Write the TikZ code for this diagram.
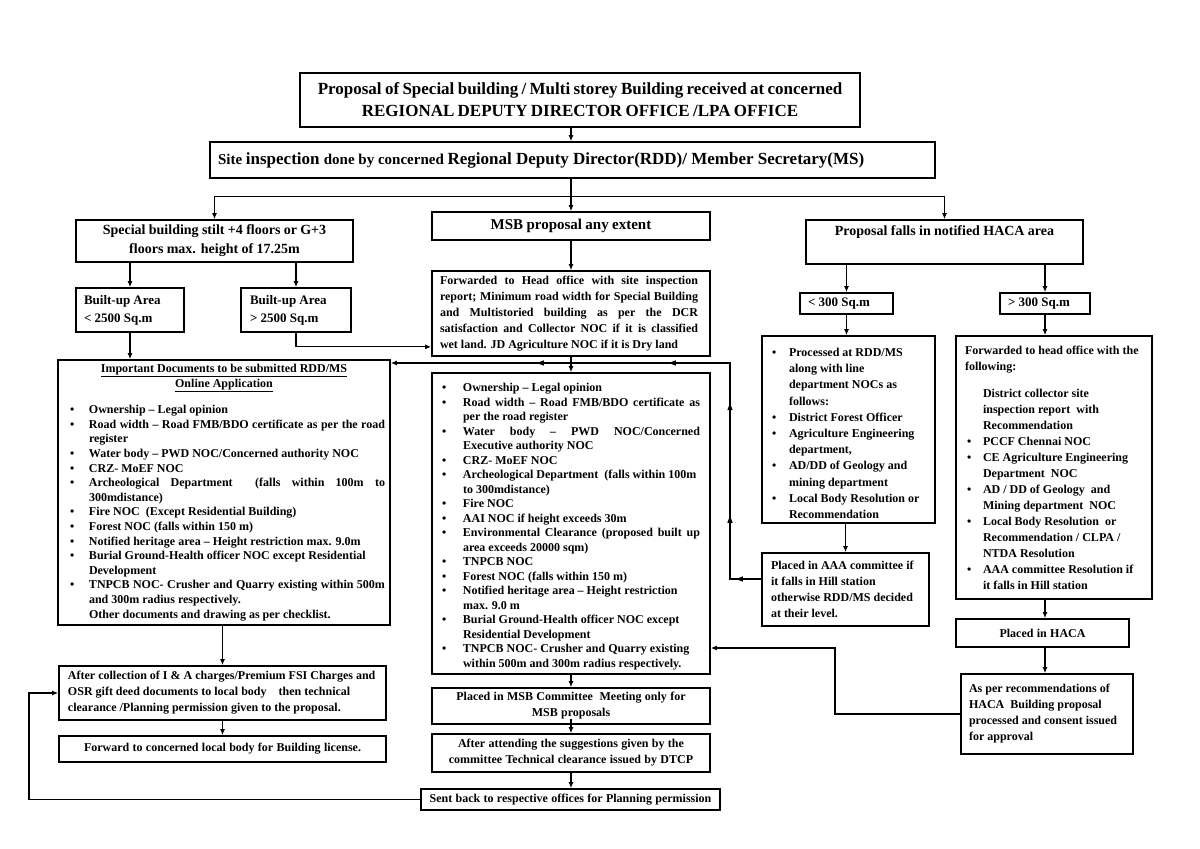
\documentclass[tikz,border=0pt]{standalone}
\usepackage{fontspec}
\setmainfont{Liberation Serif}
\usetikzlibrary{arrows.meta,decorations.markings,calc}
\newcommand\LR[2]{\leftskip=#1pt\rightskip=#2pt\relax}
\newcommand\LRr[2]{\leftskip=#1pt\rightskip=#2pt plus 1fil\relax}
\newcommand\bul[2][19]{\par\noindent\hangindent=#1pt\hbox to #1pt{\textbullet\hfil}\ignorespaces#2\par}
\newcommand\fs[2]{\fontsize{#1}{#2}\selectfont}
\newcommand\tri{\fill (3.5pt,0pt) -- (-3.5pt,2.7pt) -- (-3.5pt,-2.7pt) -- cycle;}
\tikzset{
  box/.style={draw, line width=1.7pt, inner sep=0pt, font=\bfseries, align=justify},
  arr/.style={line width=1.1pt, -{Latex[length=6pt,width=5pt]}},
  ln/.style={line width=1.1pt},
  fbmarks/.style={postaction={decorate}, decoration={markings,
     mark=at position 0.037 with {\tri},
     mark=at position 0.155 with {\tri},
     mark=at position 0.347 with {\tri},
     mark=at position 0.52 with {\tri},
     mark=at position 0.745 with {\tri}}},
}
\begin{document}
\begin{tikzpicture}[x=1pt,y=-1pt]
\fill[white] (0,0) rectangle (1200,849);
\useasboundingbox (0,0) rectangle (1200,849);

% ---------- top ----------
\node[box, text width=560pt, minimum height=54pt, align=center] (top) at (580,100)
 {\fs{17}{22}Proposal of Special building / Multi storey Building received at concerned\\REGIONAL DEPUTY DIRECTOR OFFICE /LPA OFFICE\par};
\node[box, text width=725pt, minimum height=36pt] (site) at (572.5,160)
 {\LRr{8}{0}{\fs{15}{20}Site }{\fs{17}{20}inspection }{\fs{15}{20}done by concerned }{\fs{17}{20}Regional Deputy Director(RDD)/ Member Secretary(MS)}\par};

% ---------- second row ----------
\node[box, text width=277pt, minimum height=42pt, align=center] (special) at (214.5,241)
 {\fs{14}{19}Special building stilt +4 floors or G+3\\floors max. height of 17.25m\par};
\node[box, text width=278pt, minimum height=28pt, align=center] (msb) at (571,226)
 {\fs{15}{18}MSB proposal any extent\par};
\node[box, text width=277pt, minimum height=44pt, align=center] (haca) at (944.5,242)
 {\fs{14}{18}Proposal falls in notified HACA area\\\strut\par};

% ---------- left column ----------
\node[box, text width=108pt, minimum height=44pt] (bu1) at (130,310)
 {\fs{13}{18}\LRr{8}{0}Built-up Area\newline < 2500 Sq.m\par};
\node[box, text width=110pt, minimum height=44pt] (bu2) at (296,310)
 {\fs{13}{18}\LRr{9}{0}Built-up Area\newline > 2500 Sq.m\par};

\node[box, text width=332pt, minimum height=265pt] (docsL) at (224,492.5)
 {\fs{12}{14.6}%
 {\centering\underline{Important Documents to be submitted RDD/MS}\break\underline{Online Application}\par}%
 \vskip 12pt
 \LR{12}{5}%
 \bul{Ownership – Legal opinion}
 \bul{Road width – Road FMB/BDO certificate as per the road\linebreak register}
 \bul{Water body – PWD NOC/Concerned authority NOC}
 \bul{CRZ- MoEF NOC}
 \bul{Archeological Department\ \ (falls within 100m to\linebreak 300mdistance)}
 \bul{Fire NOC\ \ (Except Residential Building)}
 \bul{Forest NOC (falls within 150 m)}
 \bul{Notified heritage area – Height restriction max. 9.0m}
 \bul{Burial Ground-Health officer NOC except Residential\newline Development}
 \bul{TNPCB NOC- Crusher and Quarry existing within 500m\linebreak and 300m radius respectively.\newline Other documents and drawing as per checklist.}};

\node[box, text width=327pt, minimum height=54pt] (aftc) at (222.5,693)
 {\fs{12}{16}\LRr{9}{2}After collection of I \& A charges/Premium FSI Charges and\newline OSR gift deed documents to local body\ \ \ \ then technical\newline clearance /Planning permission given to the proposal.\par};
\node[box, text width=327pt, minimum height=26pt, align=center] (fwdL) at (222.5,749)
 {\fs{12}{16}Forward to concerned local body for Building license.\par};

% ---------- centre column ----------
\node[box, text width=278pt, minimum height=85pt] (fwd) at (571,313.5)
 {\fs{12}{15.8}\LR{8}{12}Forwarded to Head office with site inspection\linebreak report; Minimum road width for Special Building\linebreak and Multistoried building as per the DCR\linebreak satisfaction and Collector NOC if it is classified\linebreak wet land. JD Agriculture NOC if it is Dry land\par};

\node[box, text width=278pt, minimum height=301pt] (msbdocs) at (571,523.5)
 {\fs{12}{14.5}\LR{10}{10}%
 \bul[21]{Ownership – Legal opinion}
 \bul[21]{Road width – Road FMB/BDO certificate as\linebreak per the road register}
 \bul[21]{Water body – PWD NOC/Concerned\linebreak Executive authority NOC}
 \bul[21]{CRZ- MoEF NOC}
 \bul[21]{Archeological Department\ \ (falls within 100m\newline to 300mdistance)}
 \bul[21]{Fire NOC}
 \bul[21]{AAI NOC if height exceeds 30m}
 \bul[21]{Environmental Clearance (proposed built up\linebreak area exceeds 20000 sqm)}
 \bul[21]{TNPCB NOC}
 \bul[21]{Forest NOC (falls within 150 m)}
 \bul[21]{Notified heritage area – Height restriction\newline max. 9.0 m}
 \bul[21]{Burial Ground-Health officer NOC except\newline Residential Development}
 \bul[21]{TNPCB NOC- Crusher and Quarry existing\newline within 500m and 300m radius respectively.}};

\node[box, text width=278pt, minimum height=36pt, align=center] (placed) at (571,706)
 {\fs{12}{16}Placed in MSB Committee\ \ Meeting only for\\MSB proposals\par};
\node[box, text width=278pt, minimum height=38pt, align=center] (attend) at (571,753)
 {\fs{12}{16}After attending the suggestions given by the\\committee Technical clearance issued by DTCP\par};
\node[box, text width=299pt, minimum height=21pt, align=center] (sent) at (570.5,799.5)
 {\fs{12}{16}Sent back to respective offices for Planning permission\par};

% ---------- right columns ----------
\node[box, text width=93pt, minimum height=21pt] (lt300) at (846.5,303.5)
 {\fs{13}{16}\LRr{8}{0}< 300 Sq.m\par};
\node[box, text width=90pt, minimum height=21pt] (gt300) at (1045,303.5)
 {\fs{13}{16}\LRr{8}{0}> 300 Sq.m\par};

\node[box, text width=173pt, minimum height=187pt] (proc) at (848.5,429.5)
 {\fs{12}{16.2}\LRr{10}{3}%
 \bul[17]{Processed at RDD/MS\newline along with line\newline department NOCs as\newline follows:}
 \bul[17]{District Forest Officer}
 \bul[17]{Agriculture Engineering\newline department,}
 \bul[17]{AD/DD of Geology and\newline mining department}
 \bul[17]{Local Body Resolution or\newline Recommendation}};
\node[box, text width=167pt, minimum height=73pt] (aaa) at (845.5,589.5)
 {\fs{12}{16}\LRr{9}{2}Placed in AAA committee if\newline it falls in Hill station\newline otherwise RDD/MS decided\newline at their level.\par};

\node[box, text width=196pt, minimum height=263pt] (rfwd) at (1054,467.5)
 {\fs{12}{16}\LRr{9}{2}Forwarded to head office with the\newline following:\par
 \vskip 10.7pt
 {\leftskip=27pt District collector site\newline inspection report\ \ with\newline Recommendation\par}
 \LRr{11}{2}%
 \bul[16]{PCCF Chennai NOC}
 \bul[16]{CE Agriculture Engineering\newline Department\ \ NOC}
 \bul[16]{AD / DD of Geology\ \ and\newline Mining department\ \ NOC}
 \bul[16]{Local Body Resolution\ \ or\newline Recommendation / CLPA /\newline NTDA Resolution}
 \bul[16]{AAA committee Resolution if\newline it falls in Hill station}};
\node[box, text width=173pt, minimum height=28pt, align=center] (placedH) at (1042.5,633)
 {\fs{12}{16}Placed in HACA\par};
\node[box, text width=172pt, minimum height=80pt] (aspr) at (1047,714)
 {\fs{12}{16}\LRr{8}{2}As per recommendations of\newline HACA\ \ Building proposal\newline processed and consent issued\newline for approval\par\vskip 8pt};

% ---------- connectors ----------
\draw[arr] (top.south -| msb.north) -- (site.north -| msb.north);
\path (site.south -| msb.north) ++(0,18) coordinate (j1);
\draw[ln] (site.south -| msb.north) -- (j1);
\draw[arr] (j1) -- (msb.north);
\draw[arr] (j1) -| (special.north);
\draw[arr] (j1) -| (haca.north);
\draw[arr] (special.south -| bu1.north) -- (bu1.north);
\draw[arr] (special.south -| bu2.north) -- (bu2.north);
\draw[arr] (bu1.south) -- (bu1.south |- docsL.north);
\draw[arr] (bu2.south) |- ([yshift=10pt]fwd.south west);
\draw[arr] (msb.south) -- (fwd.north);
\draw[arr] (fwd.south) -- (msbdocs.north);

\path ([yshift=10.5pt]aaa.west) coordinate (fbs);
\coordinate (fb1) at (730,579);
\coordinate (fb2) at (730,363);
\draw[arr, fbmarks] (fbs) -- (fb1) -- (fb2) -- (fb2 -| docsL.east);

\coordinate (c2) at (835,648);
\draw[arr] (aspr.west) -| (c2) -- (c2 -| msbdocs.east);

\draw[arr] (docsL.south -| aftc.north) -- (aftc.north);
\draw[arr] (aftc.south) -- (fwdL.north);
\coordinate (c3) at (29,693);
\draw[arr] (sent.west) -| (c3) -- (aftc.west);

\draw[arr] (msbdocs.south) -- (placed.north);
\draw[arr] ([yshift=6pt]placed.south) -- (attend.north);
\draw[arr] (attend.south) -- (attend.south |- sent.north);

\draw[arr] (haca.south -| lt300.north) -- (lt300.north);
\draw[arr] (haca.south -| gt300.north) -- (gt300.north);
\draw[arr] (lt300.south) -- (lt300.south |- proc.north);
\draw[arr] (gt300.south) -- (gt300.south |- rfwd.north);
\draw[arr] (proc.south -| aaa.north) -- (aaa.north);
\draw[arr] (rfwd.south -| gt300.south) -- (placedH.north -| gt300.south);
\draw[arr] (placedH.south -| gt300.south) -- (aspr.north -| gt300.south);
\end{tikzpicture}
\end{document}
